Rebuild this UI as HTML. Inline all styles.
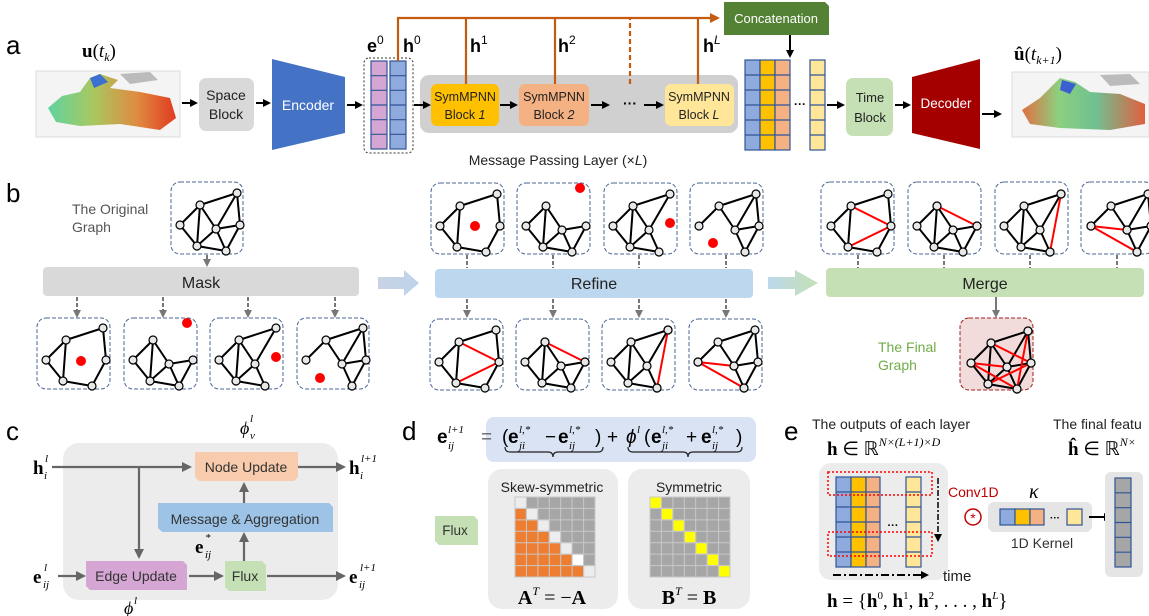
<!DOCTYPE html>
<html><head><meta charset="utf-8"><style>
html,body{margin:0;padding:0;background:#fff}
svg{display:block}
text{font-family:"Liberation Sans",sans-serif}
.m{font-family:"Liberation Serif",serif}
.b{font-family:"Liberation Serif",serif;font-weight:bold;font-size:19px}
.s{font-family:"Liberation Serif",serif;font-style:italic;font-size:11px}
.e{stroke:#000;stroke-width:2;fill:none}
.r{stroke:#f00;stroke-width:2;fill:none}
.n{fill:#e8e8e8;stroke:#000;stroke-width:1.2}
.bx{fill:#fff;stroke:#4a6596;stroke-width:1;stroke-dasharray:4 2}
.ga{stroke:#777;stroke-width:2;stroke-dasharray:4 2}
</style></head><body>
<svg width="1149" height="616" viewBox="0 0 1149 616" xmlns="http://www.w3.org/2000/svg">
<defs>
<marker id="ak" markerWidth="8" markerHeight="8" refX="6" refY="4" orient="auto" markerUnits="userSpaceOnUse"><path d="M0,0 L8,4 L0,8 z" fill="#000"/></marker>
<marker id="ag" markerWidth="10" markerHeight="10" refX="8" refY="5" orient="auto" markerUnits="userSpaceOnUse"><path d="M0,0 L10,5 L0,10 z" fill="#666"/></marker>
<marker id="ao" markerWidth="10" markerHeight="10" refX="8" refY="5" orient="auto" markerUnits="userSpaceOnUse"><path d="M0,0 L10,5 L0,10 z" fill="#c55a11"/></marker>
<marker id="ag2" markerWidth="8" markerHeight="8" refX="6" refY="4" orient="auto" markerUnits="userSpaceOnUse"><path d="M0,0 L8,4 L0,8 z" fill="#777"/></marker>
<linearGradient id="sea" x1="0" x2="1"><stop offset="0" stop-color="#5fd3a0"/><stop offset="0.35" stop-color="#a8c860"/><stop offset="0.7" stop-color="#e08a40"/><stop offset="1" stop-color="#e03a20"/></linearGradient>
<linearGradient id="sea2" x1="0" x2="1"><stop offset="0" stop-color="#e07040"/><stop offset="0.3" stop-color="#8cd080"/><stop offset="0.6" stop-color="#70c090"/><stop offset="1" stop-color="#e06040"/></linearGradient>
<linearGradient id="ba" x1="0" x2="1"><stop offset="0" stop-color="#c9d3e6"/><stop offset="1" stop-color="#bcd3ea"/></linearGradient>
<linearGradient id="bb" x1="0" x2="1"><stop offset="0" stop-color="#bcd8ec"/><stop offset="1" stop-color="#c5e0b4"/></linearGradient>
<g id="nodes"><circle class="n" cx="62" cy="8" r="4"/><circle class="n" cx="25" cy="20" r="4"/><circle class="n" cx="5" cy="40" r="4"/><circle class="n" cx="41" cy="44" r="4"/><circle class="n" cx="65" cy="40" r="4"/><circle class="n" cx="22" cy="61" r="4"/><circle class="n" cx="51" cy="66" r="4"/></g>
<g id="full"><path class="e" d="M62,8L25,20M62,8L41,44M62,8L65,40M25,20L5,40M25,20L22,61M25,20L41,44M5,40L22,61M41,44L22,61M41,44L65,40M41,44L51,66M22,61L51,66M65,40L51,66"/><use href="#nodes"/></g>
<g id="m1"><path class="e" d="M62,8L25,20M62,8L65,40M25,20L5,40M25,20L22,61M5,40L22,61M22,61L51,66M65,40L51,66"/><circle class="n" cx="62" cy="8" r="4"/><circle class="n" cx="25" cy="20" r="4"/><circle class="n" cx="5" cy="40" r="4"/><circle class="n" cx="65" cy="40" r="4"/><circle class="n" cx="22" cy="61" r="4"/><circle class="n" cx="51" cy="66" r="4"/></g>
<g id="m2"><path class="e" d="M25,20L5,40M25,20L22,61M25,20L41,44M5,40L22,61M41,44L22,61M41,44L65,40M41,44L51,66M22,61L51,66M65,40L51,66"/><circle class="n" cx="25" cy="20" r="4"/><circle class="n" cx="5" cy="40" r="4"/><circle class="n" cx="41" cy="44" r="4"/><circle class="n" cx="65" cy="40" r="4"/><circle class="n" cx="22" cy="61" r="4"/><circle class="n" cx="51" cy="66" r="4"/></g>
<g id="m3"><path class="e" d="M62,8L25,20M62,8L41,44M25,20L5,40M25,20L22,61M25,20L41,44M5,40L22,61M41,44L22,61M41,44L51,66M22,61L51,66"/><circle class="n" cx="62" cy="8" r="4"/><circle class="n" cx="25" cy="20" r="4"/><circle class="n" cx="5" cy="40" r="4"/><circle class="n" cx="41" cy="44" r="4"/><circle class="n" cx="22" cy="61" r="4"/><circle class="n" cx="51" cy="66" r="4"/></g>
<g id="m4"><path class="e" d="M62,8L25,20M62,8L41,44M62,8L65,40M25,20L5,40M25,20L41,44M41,44L65,40M41,44L51,66M65,40L51,66"/><circle class="n" cx="62" cy="8" r="4"/><circle class="n" cx="25" cy="20" r="4"/><circle class="n" cx="5" cy="40" r="4"/><circle class="n" cx="41" cy="44" r="4"/><circle class="n" cx="65" cy="40" r="4"/><circle class="n" cx="51" cy="66" r="4"/></g>
<g id="r1"><path class="e" d="M62,8L25,20M62,8L65,40M25,20L5,40M25,20L22,61M5,40L22,61M22,61L51,66M65,40L51,66"/><path class="r" d="M25,20L65,40M22,61L65,40"/><circle class="n" cx="62" cy="8" r="4"/><circle class="n" cx="25" cy="20" r="4"/><circle class="n" cx="5" cy="40" r="4"/><circle class="n" cx="65" cy="40" r="4"/><circle class="n" cx="22" cy="61" r="4"/><circle class="n" cx="51" cy="66" r="4"/></g>
<g id="r2"><use href="#m2"/><path class="r" d="M25,20L65,40"/><circle class="n" cx="25" cy="20" r="4"/><circle class="n" cx="65" cy="40" r="4"/></g>
<g id="r3"><use href="#m3"/><path class="r" d="M62,8L51,66"/><circle class="n" cx="62" cy="8" r="4"/><circle class="n" cx="51" cy="66" r="4"/></g>
<g id="r4"><use href="#m4"/><path class="r" d="M5,40L41,44M5,40L51,66"/><circle class="n" cx="5" cy="40" r="4"/><circle class="n" cx="41" cy="44" r="4"/><circle class="n" cx="51" cy="66" r="4"/></g>
</defs>

<!-- ===== panel a ===== -->
<text x="6" y="54" font-size="26">a</text>
<text x="82" y="57" font-size="19" class="m"><tspan font-weight="bold">u</tspan>(<tspan font-style="italic">t</tspan><tspan font-size="12" font-style="italic" dy="4">k</tspan><tspan dy="-4">)</tspan></text>
<rect x="36" y="71" width="144" height="66" fill="#f4f4f4" stroke="#ddd"/>
<path d="M90,78 L100,74 L118,80 L110,88 L140,92 L170,98 L176,118 L160,130 L120,124 L80,126 L56,122 L48,108 L62,96 L80,92 Z" fill="url(#sea)"/>
<path d="M120,74 L150,72 L158,80 L130,84 Z" fill="#bbb"/>
<path d="M90,78 L100,74 L108,82 L94,88 Z" fill="#3b6fd0"/>
<line x1="182" y1="103" x2="196" y2="103" stroke="#000" stroke-width="2" marker-end="url(#ak)"/>
<rect x="199" y="78" width="55" height="53" rx="7" fill="#d9d9d9"/>
<text x="226" y="100" font-size="14" text-anchor="middle" fill="#222">Space</text>
<text x="226" y="119" font-size="14" text-anchor="middle" fill="#222">Block</text>
<line x1="256" y1="103" x2="269" y2="103" stroke="#000" stroke-width="2" marker-end="url(#ak)"/>
<path d="M272,59 L345,77 L345,133 L272,150 Z" fill="#4472c4"/>
<text x="308" y="110" font-size="14" text-anchor="middle" fill="#fff">Encoder</text>
<line x1="347" y1="105" x2="361" y2="105" stroke="#000" stroke-width="2" marker-end="url(#ak)"/>
<rect x="364" y="58" width="49" height="95" rx="5" fill="none" stroke="#333" stroke-dasharray="2 2"/>
<g stroke="#2f5597" stroke-width="1.2">
<rect x="371" y="61" width="16" height="88" fill="#d5a6d4"/>
<rect x="390" y="61" width="16" height="88" fill="#8faadc"/>
<path d="M371,75.7H387M371,90.3H387M371,105H387M371,119.7H387M371,134.3H387M390,75.7H406M390,90.3H406M390,105H406M390,119.7H406M390,134.3H406"/>
</g>
<rect x="420" y="75" width="318" height="58" rx="9" fill="#d0d0d0"/>
<line x1="414" y1="105" x2="429" y2="105" stroke="#000" stroke-width="2" marker-end="url(#ak)"/>
<rect x="431" y="84" width="68" height="42" rx="6" fill="#ffc000"/>
<text x="465" y="101" font-size="12.5" text-anchor="middle" fill="#222">SymMPNN</text>
<text x="465" y="119" font-size="12.5" text-anchor="middle" fill="#222">Block <tspan font-style="italic">1</tspan></text>
<line x1="500" y1="105" x2="516" y2="105" stroke="#000" stroke-width="2" marker-end="url(#ak)"/>
<rect x="519" y="84" width="70" height="42" rx="6" fill="#f4b183"/>
<text x="554" y="101" font-size="12.5" text-anchor="middle" fill="#222">SymMPNN</text>
<text x="554" y="119" font-size="12.5" text-anchor="middle" fill="#222">Block <tspan font-style="italic">2</tspan></text>
<line x1="591" y1="105" x2="608" y2="105" stroke="#000" stroke-width="2" marker-end="url(#ak)"/>
<text x="630" y="108" font-size="14" text-anchor="middle" font-weight="bold">···</text>
<line x1="644" y1="105" x2="662" y2="105" stroke="#000" stroke-width="2" marker-end="url(#ak)"/>
<rect x="665" y="84" width="69" height="42" rx="6" fill="#ffe699"/>
<text x="699" y="101" font-size="12.5" text-anchor="middle" fill="#222">SymMPNN</text>
<text x="699" y="119" font-size="12.5" text-anchor="middle" fill="#222">Block <tspan font-style="italic">L</tspan></text>
<text x="558" y="165" font-size="14" text-anchor="middle" fill="#222">Message Passing Layer (×<tspan font-style="italic">L</tspan>)</text>
<g stroke="#c55a11" stroke-width="2.2" fill="none">
<path d="M398,61V18H718" marker-end="url(#ao)"/>
<path d="M466,84V18M555,84V18M698,84V18"/>
<path d="M630,84V18" stroke-dasharray="5 3"/>
</g>
<g class="m" font-size="18" font-weight="bold">
<text x="367" y="52">e<tspan font-size="12" font-weight="normal" dy="-8">0</tspan></text>
<text x="403" y="52">h<tspan font-size="12" font-weight="normal" dy="-8">0</tspan></text>
<text x="470" y="52">h<tspan font-size="12" font-weight="normal" dy="-8">1</tspan></text>
<text x="558" y="52">h<tspan font-size="12" font-weight="normal" dy="-8">2</tspan></text>
<text x="703" y="52">h<tspan font-size="12" font-weight="normal" font-style="italic" dy="-8">L</tspan></text>
</g>
<path d="M724,2 H825 L829,6 V35 H724 Z" fill="#548235"/>
<text x="776" y="23" font-size="13" text-anchor="middle" fill="#fff">Concatenation</text>
<line x1="790" y1="35" x2="790" y2="56" stroke="#000" stroke-width="2" marker-end="url(#ak)"/>
<g stroke="#2f5597" stroke-width="1.2">
<rect x="745" y="60" width="15" height="90" fill="#8faadc"/>
<rect x="760" y="60" width="15" height="90" fill="#ffc000"/>
<rect x="775" y="60" width="15" height="90" fill="#f4b183"/>
<rect x="810" y="60" width="15" height="90" fill="#ffe699"/>
<path d="M745,75H790M745,90H790M745,105H790M745,120H790M745,135H790M810,75H825M810,90H825M810,105H825M810,120H825M810,135H825"/>
</g>
<text x="800" y="108" font-size="12" text-anchor="middle" font-weight="bold">···</text>
<line x1="827" y1="105" x2="843" y2="105" stroke="#000" stroke-width="2" marker-end="url(#ak)"/>
<rect x="846" y="78" width="47" height="58" rx="7" fill="#c5e0b4"/>
<text x="870" y="102" font-size="13" text-anchor="middle" fill="#222">Time</text>
<text x="870" y="122" font-size="13" text-anchor="middle" fill="#222">Block</text>
<line x1="895" y1="105" x2="909" y2="105" stroke="#000" stroke-width="2" marker-end="url(#ak)"/>
<path d="M912,77 L980,59 L980,149 L912,133 Z" fill="#a50000"/>
<text x="946" y="108" font-size="13.5" text-anchor="middle" fill="#fff">Decoder</text>
<line x1="982" y1="114" x2="1000" y2="114" stroke="#000" stroke-width="2" marker-end="url(#ak)"/>
<rect x="1012" y="72" width="137" height="65" fill="#f4f4f4" stroke="#ddd"/>
<path d="M1060,78 L1075,82 L1090,92 L1120,94 L1145,104 L1145,124 L1110,130 L1060,128 L1030,124 L1022,110 L1040,98 Z" fill="url(#sea2)"/>
<path d="M1100,75 L1130,74 L1140,84 L1110,86 Z" fill="#bbb"/>
<path d="M1062,80 L1076,84 L1070,94 L1060,90 Z" fill="#3b5fd0"/>
<text x="1014" y="60" font-size="19" class="m"><tspan font-weight="bold">û</tspan>(<tspan font-style="italic">t</tspan><tspan font-size="12" font-style="italic" dy="4">k+1</tspan><tspan dy="-4">)</tspan></text>

<!-- ===== panel b ===== -->
<text x="6" y="202" font-size="26">b</text>
<text x="72" y="214" font-size="14" fill="#555">The Original</text>
<text x="72" y="232" font-size="14" fill="#555">Graph</text>
<rect class="bx" x="171" y="182" width="72" height="72" rx="9"/><use href="#full" x="175" y="185"/>
<line x1="207" y1="255" x2="207" y2="265" stroke="#777" stroke-width="2" marker-end="url(#ag2)"/>
<rect x="43" y="267" width="316" height="29" rx="4" fill="#d9d9d9"/>
<text x="201" y="288" font-size="16" text-anchor="middle" fill="#222">Mask</text>
<g>
<line class="ga" x1="77" y1="297" x2="77" y2="316" marker-end="url(#ag2)"/>
<line class="ga" x1="163" y1="297" x2="163" y2="316" marker-end="url(#ag2)"/>
<line class="ga" x1="248" y1="297" x2="248" y2="316" marker-end="url(#ag2)"/>
<line class="ga" x1="335" y1="297" x2="335" y2="316" marker-end="url(#ag2)"/>
</g>
<rect class="bx" x="37" y="318" width="73" height="71" rx="9"/><use href="#m1" x="41" y="320"/><circle cx="81" cy="361" r="5" fill="#f00"/>
<rect class="bx" x="124" y="318" width="73" height="71" rx="9"/><use href="#m2" x="128" y="320"/><circle cx="187" cy="323" r="5" fill="#f00"/>
<rect class="bx" x="210" y="318" width="73" height="71" rx="9"/><use href="#m3" x="214" y="320"/><circle cx="276" cy="357" r="5" fill="#f00"/>
<rect class="bx" x="297" y="318" width="72" height="71" rx="9"/><use href="#m4" x="301" y="320"/><circle cx="320" cy="378" r="5" fill="#f00"/>
<path d="M378,277 H404 V270 L419,283 L404,296 V289 H378 Z" fill="url(#ba)"/>
<rect x="431" y="183" width="73" height="71" rx="9" class="bx"/><use href="#m1" x="435" y="186"/><circle cx="475" cy="226" r="5" fill="#f00"/>
<rect x="517" y="183" width="73" height="71" rx="9" class="bx"/><use href="#m2" x="521" y="186"/><circle cx="580" cy="188" r="5" fill="#f00"/>
<rect x="604" y="183" width="73" height="71" rx="9" class="bx"/><use href="#m3" x="608" y="186"/><circle cx="670" cy="223" r="5" fill="#f00"/>
<rect x="690" y="183" width="73" height="71" rx="9" class="bx"/><use href="#m4" x="694" y="186"/><circle cx="713" cy="243" r="5" fill="#f00"/>
<g><line class="ga" x1="467" y1="255" x2="467" y2="268"/><line class="ga" x1="553" y1="255" x2="553" y2="268"/><line class="ga" x1="639" y1="255" x2="639" y2="268"/><line class="ga" x1="726" y1="255" x2="726" y2="268"/></g>
<rect x="435" y="269" width="318" height="29" rx="4" fill="#bdd7ee"/>
<text x="594" y="289" font-size="16" text-anchor="middle" fill="#222">Refine</text>
<g>
<line class="ga" x1="467" y1="299" x2="467" y2="316" marker-end="url(#ag2)"/>
<line class="ga" x1="553" y1="299" x2="553" y2="316" marker-end="url(#ag2)"/>
<line class="ga" x1="639" y1="299" x2="639" y2="316" marker-end="url(#ag2)"/>
<line class="ga" x1="726" y1="299" x2="726" y2="316" marker-end="url(#ag2)"/>
</g>
<rect class="bx" x="430" y="319" width="73" height="71" rx="9"/><use href="#r1" x="434" y="322"/>
<rect class="bx" x="516" y="319" width="73" height="71" rx="9"/><use href="#r2" x="520" y="322"/>
<rect class="bx" x="602" y="319" width="73" height="71" rx="9"/><use href="#r3" x="606" y="322"/>
<rect class="bx" x="689" y="319" width="73" height="71" rx="9"/><use href="#r4" x="693" y="322"/>
<path d="M768,277 H795 V270 L818,283 L795,296 V289 H768 Z" fill="url(#bb)"/>
<rect class="bx" x="821" y="182" width="73" height="72" rx="9"/><use href="#r1" x="826" y="186"/>
<rect class="bx" x="908" y="182" width="73" height="72" rx="9"/><use href="#r2" x="912" y="186"/>
<rect class="bx" x="995" y="182" width="73" height="72" rx="9"/><use href="#r3" x="999" y="186"/>
<rect class="bx" x="1081" y="182" width="73" height="72" rx="9"/><use href="#r4" x="1086" y="186"/>
<g><line class="ga" x1="858" y1="255" x2="858" y2="268"/><line class="ga" x1="944" y1="255" x2="944" y2="268"/><line class="ga" x1="1030" y1="255" x2="1030" y2="268"/><line class="ga" x1="1117" y1="255" x2="1117" y2="268"/></g>
<rect x="826" y="268" width="318" height="29" rx="4" fill="#c5e0b4"/>
<text x="985" y="289" font-size="16" text-anchor="middle" fill="#222">Merge</text>
<line x1="996" y1="297" x2="996" y2="316" stroke="#777" stroke-width="2" marker-end="url(#ag2)"/>
<rect x="960" y="318" width="73" height="72" rx="9" fill="#f2dcdb" stroke="#a02020" stroke-dasharray="4 2"/>
<g transform="translate(966,323)"><use href="#full"/><path class="r" d="M25,20L65,40M22,61L65,40M62,8L51,66M5,40L41,44M5,40L51,66"/><use href="#nodes"/></g>
<text x="878" y="352" font-size="14" fill="#70ad47">The Final</text>
<text x="878" y="370" font-size="14" fill="#70ad47">Graph</text>

<!-- ===== panel c ===== -->
<text x="6" y="440" font-size="26">c</text>
<rect x="63" y="443" width="275" height="157" rx="16" fill="#ececec"/>
<text x="240" y="434" font-size="18" class="m" font-style="italic">ϕ</text><text x="250" y="439" class="s">v</text><text x="250" y="422" class="s">l</text>
<text x="124" y="614" font-size="18" class="m" font-style="italic">ϕ</text><text x="134" y="604" class="s">l</text>
<g stroke="#666" stroke-width="2.2" fill="none">
<line x1="52" y1="467" x2="190" y2="467" marker-end="url(#ag)"/>
<line x1="139" y1="467" x2="139" y2="557" marker-end="url(#ag)"/>
<line x1="298" y1="467" x2="344" y2="467" marker-end="url(#ag)"/>
<line x1="58" y1="576" x2="84" y2="576" marker-end="url(#ag)"/>
<line x1="189" y1="576" x2="222" y2="576" marker-end="url(#ag)"/>
<line x1="267" y1="576" x2="344" y2="576" marker-end="url(#ag)"/>
<line x1="244" y1="561" x2="244" y2="534" marker-end="url(#ag)"/>
<line x1="244" y1="503" x2="244" y2="484" marker-end="url(#ag)"/>
</g>
<path d="M195,452 H298 V477 L294,481 H199 L195,477 Z" fill="#f8cbad"/>
<text x="246" y="472" font-size="14" text-anchor="middle" fill="#333">Node Update</text>
<path d="M158,503 H329 L333,507 V532 H162 L158,528 Z" fill="#9dc3e6"/>
<text x="245" y="524" font-size="14" text-anchor="middle" fill="#333">Message &amp; Aggregation</text>
<path d="M86,561 H183 L187,565 V590 H90 L86,586 Z" fill="#d5a6d4"/>
<text x="136" y="581" font-size="14" text-anchor="middle" fill="#333">Edge Update</text>
<path d="M225,561 H262 L266,565 V591 H229 L225,587 Z" fill="#c5e0b4"/>
<text x="245" y="581" font-size="14" text-anchor="middle" fill="#333">Flux</text>
<text x="33" y="474" class="b">h</text><text x="44" y="479" class="s">i</text><text x="45" y="462" class="s">l</text>
<text x="349" y="474" class="b">h</text><text x="360" y="479" class="s">i</text><text x="361" y="462" class="s">l+1</text>
<text x="33" y="583" class="b">e</text><text x="43" y="588" class="s">ij</text><text x="44" y="571" class="s">l</text>
<text x="349" y="583" class="b">e</text><text x="359" y="588" class="s">ij</text><text x="360" y="571" class="s">l+1</text>
<text x="195" y="553" class="b">e</text><text x="205" y="558" class="s">ij</text><text x="205" y="541" class="s">*</text>

<!-- ===== panel d ===== -->
<text x="402" y="440" font-size="26">d</text>
<rect x="486" y="417" width="270" height="45" rx="8" fill="#dae3f3"/>
<g class="m" font-size="19">
<text x="437" y="443" font-weight="bold">e</text><text x="448" y="449" class="s">ij</text><text x="448" y="433" class="s">l+1</text>
<text x="481" y="443" fill="#666">=</text>
<text x="502" y="443">(</text>
<text x="508" y="443" font-weight="bold">e</text><text x="519" y="449" class="s">ji</text><text x="519" y="433" class="s">l,*</text>
<text x="545" y="443">−</text>
<text x="558" y="443" font-weight="bold">e</text><text x="569" y="449" class="s">ij</text><text x="569" y="433" class="s">l,*</text>
<text x="595" y="443">)</text>
<text x="607" y="443">+</text>
<text x="626" y="443" font-style="italic">ϕ</text><text x="637" y="433" class="s">l</text>
<text x="644" y="443">(</text>
<text x="651" y="443" font-weight="bold">e</text><text x="662" y="449" class="s">ji</text><text x="662" y="433" class="s">l,*</text>
<text x="686" y="443">+</text>
<text x="701" y="443" font-weight="bold">e</text><text x="712" y="449" class="s">ij</text><text x="712" y="433" class="s">l,*</text>
<text x="736" y="443">)</text>
</g>
<path d="M505,447 q0,5 5,5 H548 q5,0 5,5 q0,-5 5,-5 H598 q5,0 5,-5" stroke="#222" stroke-width="1.2" fill="none"/>
<path d="M628,447 q0,5 5,5 H683 q5,0 5,5 q0,-5 5,-5 H737 q5,0 5,-5" stroke="#222" stroke-width="1.2" fill="none"/>
<rect x="488" y="469" width="130" height="140" rx="14" fill="#ececec"/>
<rect x="628" y="469" width="122" height="140" rx="14" fill="#ececec"/>
<text x="552" y="492" font-size="14" text-anchor="middle" fill="#222">Skew-symmetric</text>
<text x="689" y="492" font-size="14" text-anchor="middle" fill="#222">Symmetric</text>
<path d="M435,516 H474 L478,520 V545 H439 L435,541 Z" fill="#c5e0b4"/>
<text x="455" y="535" font-size="13.5" text-anchor="middle" fill="#333">Flux</text>
<g stroke="#c8c8c8" stroke-width="1">
<rect x="515" y="497" width="80" height="80" fill="#a6a6a6"/>
<path d="M515,508.4 L526.4,508.4 L526.4,519.9 L537.9,519.9 L537.9,531.3 L549.3,531.3 L549.3,542.7 L560.7,542.7 L560.7,554.1 L572.1,554.1 L572.1,565.6 L583.6,565.6 L583.6,577 L515,577 Z" fill="#ed7d31"/>
<rect x="515" y="497" width="11.4" height="11.4" fill="#ededed"/><rect x="526.4" y="508.4" width="11.4" height="11.4" fill="#ededed"/><rect x="537.9" y="519.9" width="11.4" height="11.4" fill="#ededed"/><rect x="549.3" y="531.3" width="11.4" height="11.4" fill="#ededed"/><rect x="560.7" y="542.7" width="11.4" height="11.4" fill="#ededed"/><rect x="572.1" y="554.1" width="11.4" height="11.4" fill="#fff"/><rect x="583.6" y="565.6" width="11.4" height="11.4" fill="#ededed"/>
<path d="M526.4,497V577M537.9,497V577M549.3,497V577M560.7,497V577M572.1,497V577M583.6,497V577M515,508.4H595M515,519.9H595M515,531.3H595M515,542.7H595M515,554.1H595M515,565.6H595"/>
<rect x="650" y="497" width="80" height="80" fill="#a6a6a6"/>
<rect x="650" y="497" width="11.4" height="11.4" fill="#ffff00"/><rect x="661.4" y="508.4" width="11.4" height="11.4" fill="#ffff00"/><rect x="672.9" y="519.9" width="11.4" height="11.4" fill="#ffff00"/><rect x="684.3" y="531.3" width="11.4" height="11.4" fill="#ffff00"/><rect x="695.7" y="542.7" width="11.4" height="11.4" fill="#ffff00"/><rect x="707.1" y="554.1" width="11.4" height="11.4" fill="#ffff00"/><rect x="718.6" y="565.6" width="11.4" height="11.4" fill="#ffff00"/>
<path d="M661.4,497V577M672.9,497V577M684.3,497V577M695.7,497V577M707.1,497V577M718.6,497V577M650,508.4H730M650,519.9H730M650,531.3H730M650,542.7H730M650,554.1H730M650,565.6H730"/>
</g>
<text x="552" y="604" font-size="20" class="m" text-anchor="middle"><tspan font-weight="bold">A</tspan><tspan font-size="12" font-style="italic" dy="-9">T</tspan><tspan dy="9"> = −</tspan><tspan font-weight="bold">A</tspan></text>
<text x="689" y="604" font-size="20" class="m" text-anchor="middle"><tspan font-weight="bold">B</tspan><tspan font-size="12" font-style="italic" dy="-9">T</tspan><tspan dy="9"> = </tspan><tspan font-weight="bold">B</tspan></text>

<!-- ===== panel e ===== -->
<text x="784" y="440" font-size="26">e</text>
<text x="812" y="429" font-size="14" fill="#222">The outputs of each layer</text>
<text x="1053" y="429" font-size="14" fill="#222">The final featu</text>
<text x="827" y="455" font-size="19" class="m"><tspan font-weight="bold">h</tspan> ∈ ℝ<tspan font-size="12" font-style="italic" dy="-9">N×(L+1)×D</tspan></text>
<text x="1068" y="455" font-size="19" class="m"><tspan font-weight="bold">ĥ</tspan> ∈ ℝ<tspan font-size="12" font-style="italic" dy="-9">N×</tspan></text>
<rect x="819" y="463" width="129" height="117" rx="12" fill="#ececec"/>
<g stroke="#2f5597" stroke-width="1.2">
<rect x="836" y="477" width="15" height="90" fill="#8faadc"/>
<rect x="851" y="477" width="15" height="90" fill="#ffc000"/>
<rect x="866" y="477" width="14" height="90" fill="#f4b183"/>
<rect x="906" y="477" width="15" height="90" fill="#ffe699"/>
<path d="M836,492H880M836,507H880M836,522H880M836,537H880M836,552H880M906,492H921M906,507H921M906,522H921M906,537H921M906,552H921"/>
</g>
<text x="893" y="529" font-size="11" text-anchor="middle" font-weight="bold">···</text>
<rect x="828" y="472" width="104" height="23" fill="none" stroke="#f00" stroke-width="1.5" stroke-dasharray="2 2"/>
<rect x="828" y="532" width="104" height="24" fill="none" stroke="#f00" stroke-width="1.5" stroke-dasharray="2 2"/>
<line x1="938" y1="478" x2="938" y2="540" stroke="#000" stroke-width="1.5" stroke-dasharray="6 2 2 2" marker-end="url(#ak)"/>
<line x1="833" y1="575" x2="927" y2="575" stroke="#000" stroke-width="2" stroke-dasharray="8 3 2 3" marker-end="url(#ak)"/>
<text x="943" y="581" font-size="15" fill="#222">time</text>
<text x="827" y="607" font-size="19" class="m"><tspan font-weight="bold">h</tspan> = {<tspan font-weight="bold">h</tspan><tspan font-size="11" dy="-8">0</tspan><tspan dy="8">, </tspan><tspan font-weight="bold">h</tspan><tspan font-size="11" dy="-8">1</tspan><tspan dy="8">, </tspan><tspan font-weight="bold">h</tspan><tspan font-size="11" dy="-8">2</tspan><tspan dy="8">, . . . , </tspan><tspan font-weight="bold">h</tspan><tspan font-size="11" font-style="italic" dy="-8">L</tspan><tspan dy="8">}</tspan></text>
<text x="948" y="497" font-size="14" fill="#c00000">Conv1D</text>
<text x="1029" y="498" font-size="20" class="m" font-style="italic">κ</text>
<circle cx="973" cy="517" r="8" fill="none" stroke="#c00000" stroke-width="1.5"/>
<text x="973" y="523" font-size="14" fill="#c00000" text-anchor="middle">*</text>
<rect x="988" y="502" width="104" height="30" rx="6" fill="#e5e5e5"/>
<g stroke="#2f5597" stroke-width="1.2">
<rect x="1000" y="509" width="15" height="16" fill="#8faadc"/>
<rect x="1015" y="509" width="15" height="16" fill="#ffc000"/>
<rect x="1030" y="509" width="14" height="16" fill="#f4b183"/>
<rect x="1067" y="509" width="15" height="16" fill="#ffe699"/>
</g>
<text x="1055" y="521" font-size="10" text-anchor="middle" font-weight="bold">···</text>
<text x="1042" y="548" font-size="14" text-anchor="middle" fill="#333">1D Kernel</text>
<line x1="1089" y1="517" x2="1110" y2="517" stroke="#000" stroke-width="2" marker-end="url(#ak)"/>
<rect x="1105" y="472" width="38" height="105" rx="6" fill="#e5e5e5"/>
<g stroke="#2f5597" stroke-width="1.2">
<rect x="1115" y="478" width="16" height="89" fill="#a6a6a6"/>
<path d="M1115,492.8H1131M1115,507.7H1131M1115,522.5H1131M1115,537.3H1131M1115,552.2H1131"/>
</g>
</svg>
</body></html>
